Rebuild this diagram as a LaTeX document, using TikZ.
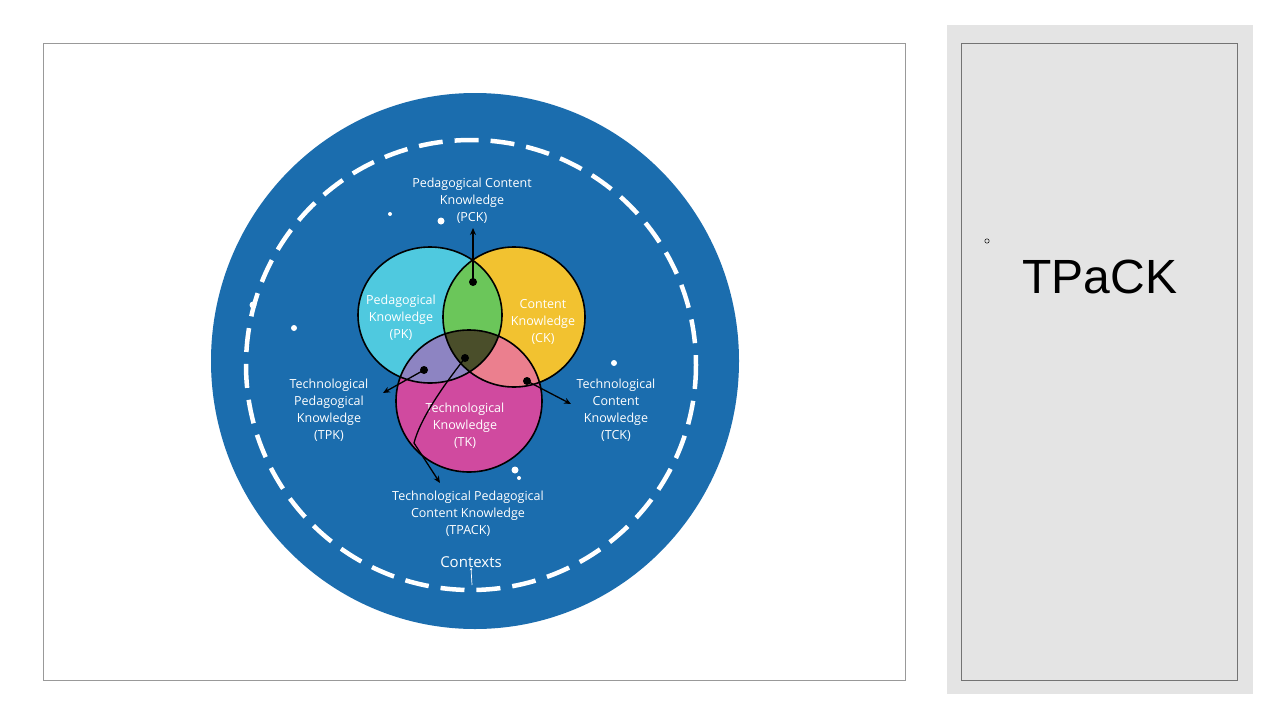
\documentclass[tikz,border=0pt]{standalone}
\usepackage{fontspec}
\setmainfont{Open Sans}
\newfontfamily\arialf{Liberation Sans}
\usetikzlibrary{arrows.meta}
\definecolor{blob}{HTML}{1B6DAE}
\definecolor{pkc}{HTML}{4FC9DF}
\definecolor{ckc}{HTML}{F2C230}
\definecolor{tkc}{HTML}{D04A9F}
\definecolor{pckc}{HTML}{6BC65A}
\definecolor{tpkc}{HTML}{8D84C2}
\definecolor{tckc}{HTML}{EB7F8E}
\definecolor{allc}{HTML}{4A4E2A}
\definecolor{panel}{HTML}{E4E4E4}
\begin{document}
\begin{tikzpicture}[x=1pt,y=-1pt,
  lab/.style={text=white,font=\fontsize{12.5}{17}\selectfont,align=center,inner sep=0},
  ptr/.style={-{Stealth[length=7pt,width=6pt]},line width=1.3pt,black},
  dot/.style={circle,fill=black,inner sep=0,minimum size=8pt}]
\useasboundingbox (0,0) rectangle (1280,720);
\fill[white] (0,0) rectangle (1280,720);
\draw[gray!80,line width=0.8pt] (43,43) rectangle (905,680);
\fill[panel] (947,25) rectangle (1253,694);
\draw[gray!90!black,line width=0.8pt] (961,43) rectangle (1237,680);
\draw[black,line width=0.5pt] (987,241) circle (2.2);
\node[font=\arialf\fontsize{48}{48}\selectfont,inner sep=0] (title) at (1100,277) {TPaCK};
% blob
\fill[blob] (475,361) ellipse [x radius=264,y radius=268];
\draw[white,line width=4.5pt,dash pattern=on 24pt off 12pt] (471,365) circle (225);
\foreach \p/\r in {{(441,221)}/3.5,{(390,214)}/2,{(294,328)}/3,{(253,305)}/3.5,{(614,363)}/3,{(515,470)}/3.5,{(519,478)}/2}
  \fill[white] \p circle (\r);
% venn
\def\pk{(430,315) ellipse [x radius=72,y radius=68]}
\def\ck{(514,317) ellipse [x radius=71,y radius=70]}
\def\tk{(469,401) ellipse [x radius=73,y radius=71]}
\fill[pkc] \pk; \fill[ckc] \ck; \fill[tkc] \tk;
\begin{scope}\clip \pk; \fill[pckc] \ck; \fill[tpkc] \tk; \end{scope}
\begin{scope}\clip \ck; \fill[tckc] \tk; \end{scope}
\begin{scope}\clip \pk; \clip \ck; \fill[allc] \tk; \end{scope}
\draw[black,line width=1.6pt] \pk \ck \tk;
% labels
\node[lab] (pck) at (472,201) {Pedagogical Content\\Knowledge\\(PCK)};
\node[lab] (pkl) at (401,318) {Pedagogical\\Knowledge\\(PK)};
\node[lab] (ckl) at (543,322) {Content\\Knowledge\\(CK)};
\node[lab] (tpk) at (329,410) {Technological\\Pedagogical\\Knowledge\\(TPK)};
\node[lab] (tck) at (616,410) {Technological\\Content\\Knowledge\\(TCK)};
\node[lab] (tkl) at (465,426) {Technological\\Knowledge\\(TK)};
\node[lab] (tpack) at (468,514) {Technological Pedagogical\\Content Knowledge\\(TPACK)};
\node[lab,font=\fontsize{15}{16}\selectfont] (ctx) at (471,562) {Contexts};
% pointers
\node[dot] (d1) at (473,282) {};
\node[dot] (d2) at (424,370) {};
\node[dot] (d3) at (527,381) {};
\node[dot] (d4) at (465,358) {};
\coordinate (e1) at (473,228);
\coordinate (e2) at (383,393);
\coordinate (e3) at (571,404);
\coordinate (m4) at (414,443);
\coordinate (e4) at (440,483);
\draw[ptr] (d1.center) -- (e1);
\draw[ptr] (d2.center) -- (e2);
\draw[ptr] (d3.center) -- (e3);
\draw[ptr] (d4.center) .. controls (440,390) and (420,420) .. (m4) -- (e4);
\coordinate (c1) at (472,585);
\draw[white,line width=0.7pt,-{Stealth[length=2.5pt,width=2.5pt]}] (c1) -- (ctx.south);
\end{tikzpicture}
\end{document}
